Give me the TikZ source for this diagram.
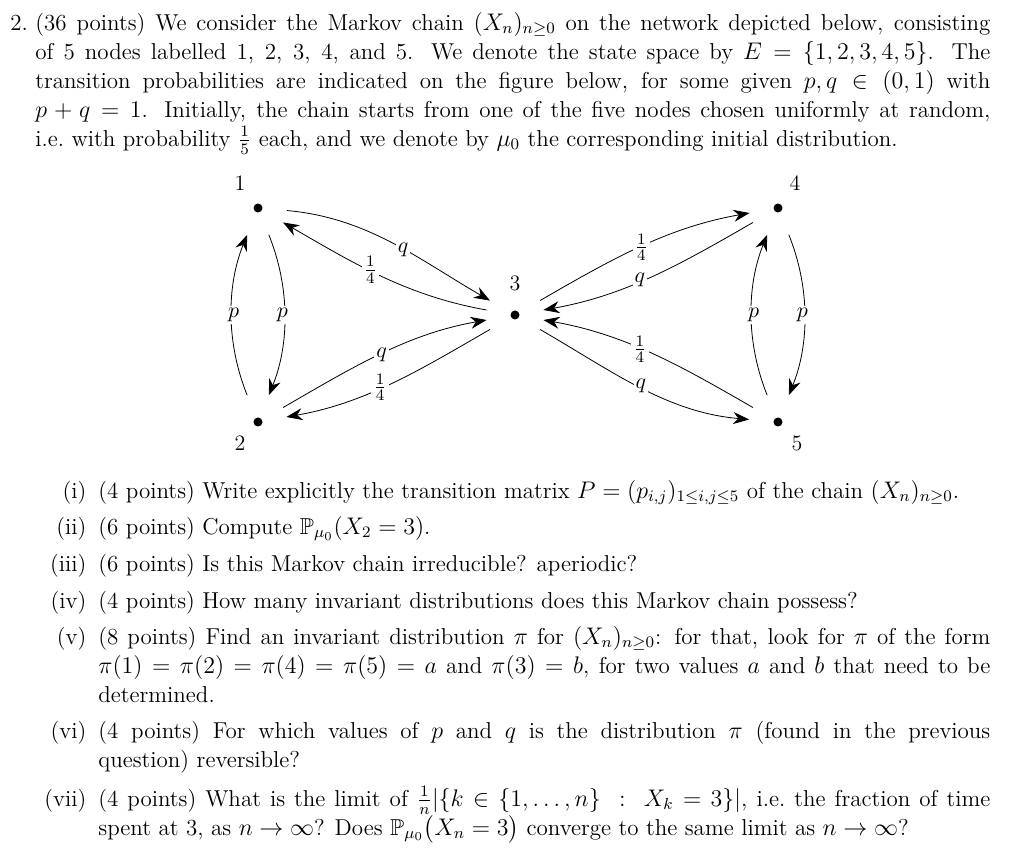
\documentclass[tikz,border=0pt]{standalone}
\usepackage{amsmath,amssymb}
\usetikzlibrary{arrows.meta}
\begin{document}
\begin{tikzpicture}[x=0.5pt,y=-0.5pt,
  arr/.style={-{Stealth[length=8pt,width=6pt]},thin,shorten >=12pt,shorten <=12pt},
  lab/.style={fill=white,inner sep=1pt,font=\fontsize{11}{13}\selectfont},
  dot/.style={circle,fill,inner sep=0pt,minimum size=4.5pt},
  para/.style={anchor=north west,align=justify,inner sep=0pt,font=\fontsize{11.5}{14.5}\selectfont}]
\useasboundingbox (0,0) rectangle (1024,861);
\node[para,text width=477.5pt] (intro) at (35,12) {\llap{\makebox[12.5pt][l]{2.}}(36 points) We consider the Markov chain $(X_n)_{n\ge0}$ on the network depicted below, consisting\linebreak
of 5 nodes labelled 1, 2, 3, 4, and 5. We denote the state space by $E=\{1,2,3,4,5\}$. The\linebreak
transition probabilities are indicated on the figure below, for some given $p,q\in(0,1)$ with\linebreak
$p+q=1$. Initially, the chain starts from one of the five nodes chosen uniformly at random,\linebreak
i.e.\ with probability $\frac15$ each, and we denote by $\mu_0$ the corresponding initial distribution.};
% diagram
\node[dot] (n1) at (258,208) {};
\node[dot] (n2) at (258,422) {};
\node[dot] (n3) at (515,315) {};
\node[dot] (n4) at (778,208) {};
\node[dot] (n5) at (778,422) {};
\node[lab] (l1) at (240,183) {1};
\node[lab] (l2) at (240,443) {2};
\node[lab] (l3) at (515,283) {3};
\node[lab] (l4) at (795,183) {4};
\node[lab] (l5) at (797,443) {5};
\draw[arr] (n2) to[bend left=22] node[lab]{$p$} (n1);
\draw[arr] (n1) to[bend left=22] node[lab]{$p$} (n2);
\draw[arr] (n5) to[bend left=22] node[lab]{$p$} (n4);
\draw[arr] (n4) to[bend left=22] node[lab]{$p$} (n5);
\draw[arr] (n1) to[out=-5,in=150] node[lab,pos=0.55]{$q$} (n3);
\draw[arr] (n3) to[out=170,in=-30] node[lab,pos=0.55]{$\frac14$} (n1);
\draw[arr] (n2) to[out=30,in=190] node[lab,pos=0.5]{$q$} (n3);
\draw[arr] (n3) to[out=210,in=10] node[lab,pos=0.55]{$\frac14$} (n2);
\draw[arr] (n3) to[out=30,in=190] node[lab,pos=0.5]{$\frac14$} (n4);
\draw[arr] (n4) to[out=210,in=10] node[lab,pos=0.55]{$q$} (n3);
\draw[arr] (n5) to[out=150,in=-10] node[lab,pos=0.55]{$\frac14$} (n3);
\draw[arr] (n3) to[out=-30,in=175] node[lab,pos=0.5]{$q$} (n5);
% questions
\node[para,text width=446pt] (ti) at (98,480) {\llap{(i)\hspace{6pt}}(4 points) Write explicitly the transition matrix $P=(p_{i,j})_{1\le i,j\le5}$ of the chain $(X_n)_{n\ge0}$.};
\node[para,text width=446pt] (tii) at (98,516) {\llap{(ii)\hspace{6pt}}(6 points) Compute $\mathbb{P}_{\mu_0}(X_2=3)$.};
\node[para,text width=446pt] (tiii) at (98,554) {\llap{(iii)\hspace{6pt}}(6 points) Is this Markov chain irreducible? aperiodic?};
\node[para,text width=446pt] (tiv) at (98,591) {\llap{(iv)\hspace{6pt}}(4 points) How many invariant distributions does this Markov chain possess?};
\node[para,text width=446pt] (tv) at (98,626) {\llap{(v)\hspace{6pt}}(8 points) Find an invariant distribution $\pi$ for $(X_n)_{n\ge0}$: for that, look for $\pi$ of the form\linebreak
$\pi(1)=\pi(2)=\pi(4)=\pi(5)=a$ and $\pi(3)=b$, for two values $a$ and $b$ that need to be\linebreak
determined.};
\node[para,text width=446pt] (tvi) at (98,721) {\llap{(vi)\hspace{6pt}}(4 points) For which values of $p$ and $q$ is the distribution $\pi$ (found in the previous\linebreak
question) reversible?};
\node[para,text width=446pt] (tvii) at (98,786) {\llap{(vii)\hspace{6pt}}(4 points) What is the limit of $\frac1n|\{k\in\{1,\dots,n\}\ :\ X_k=3\}|$, i.e.\ the fraction of time\linebreak
spent at 3, as $n\to\infty$? Does $\mathbb{P}_{\mu_0}\big(X_n=3\big)$ converge to the same limit as $n\to\infty$?};
\end{tikzpicture}
\end{document}
